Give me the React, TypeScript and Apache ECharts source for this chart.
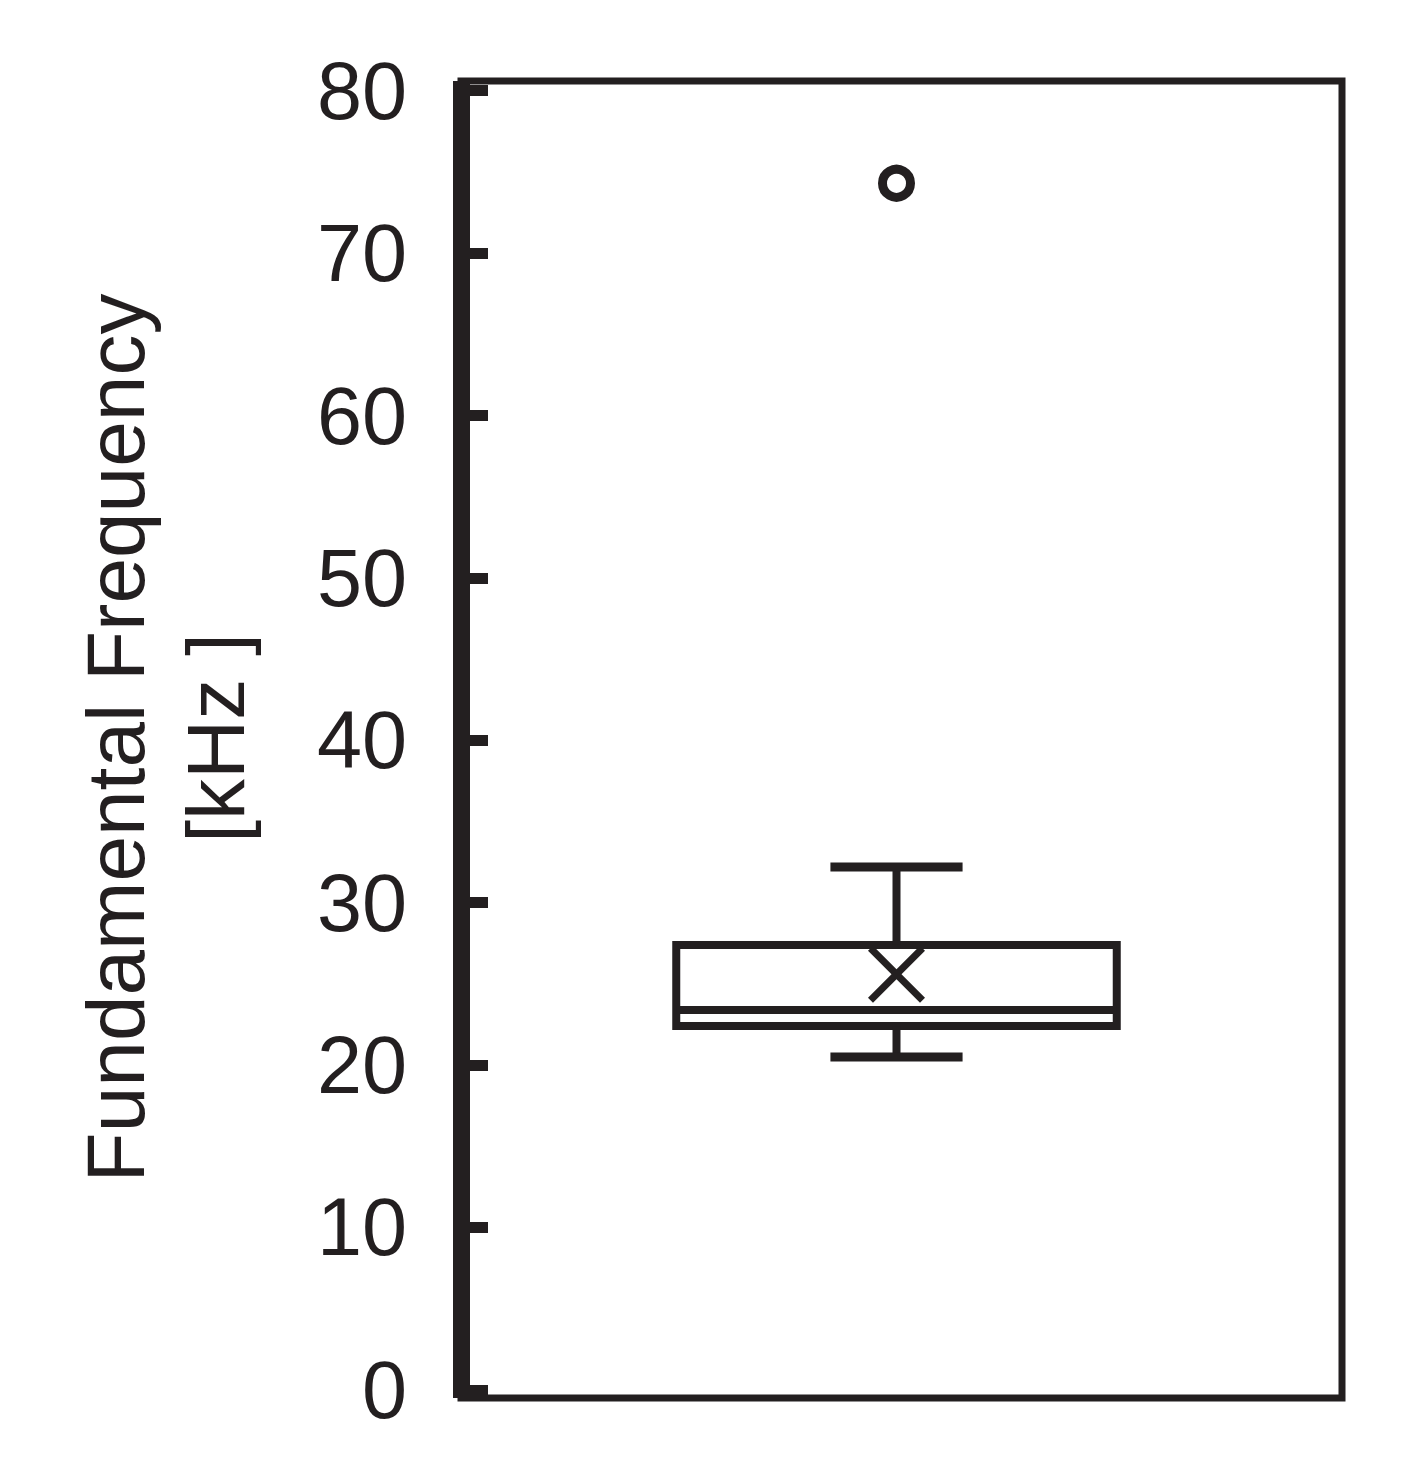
import React, { useEffect, useRef } from "react";
import * as echarts from "echarts";

const categories = ["Sample"];
const whiskerLow = [20.5];
const quartile1 = [22.4];
const medians = [23.4];
const quartile3 = [27.4];
const whiskerHigh = [32.2];
const means = [25.6];
const outliers = [74.3];
const tickValues = [0, 10, 20, 30, 40, 50, 60, 70, 80];

const INK = "#231f20";
const FONT = "'Liberation Sans', Arial, Helvetica, sans-serif";

export default function App() {
  const ref = useRef<HTMLDivElement>(null);

  useEffect(() => {
    if (!ref.current) return;
    const chart = echarts.init(ref.current, null, { renderer: "svg" });

    const boxData = categories.map((_, i) => [
      i,
      whiskerLow[i],
      quartile1[i],
      medians[i],
      quartile3[i],
      whiskerHigh[i],
      means[i],
    ]);
    const outlierData = outliers.map((v) => [0, v]);

    chart.setOption({
      animation: false,
      backgroundColor: "#ffffff",
      grid: {
        left: 461,
        top: 81,
        width: 881,
        height: 1317,
        show: true,
        borderColor: INK,
        borderWidth: 7,
        backgroundColor: "transparent",
      },
      xAxis: {
        type: "category",
        data: categories,
        show: false,
      },
      yAxis: {
        type: "value",
        min: -0.5,
        max: 80.6,
        splitLine: { show: false },
        axisLine: { show: true, lineStyle: { color: INK, width: 17, cap: "butt" } },
        axisTick: {
          show: true,
          inside: true,
          length: 27,
          customValues: tickValues,
          lineStyle: { color: INK, width: 11, cap: "butt" },
        },
        axisLabel: {
          show: true,
          customValues: tickValues,
          margin: 54,
          color: INK,
          fontSize: 81,
          fontFamily: FONT,
        },
      },
      graphic: [
        {
          type: "text",
          x: 165,
          y: 738,
          rotation: Math.PI / 2,
          style: {
            text: "Fundamental Frequency\n[kHz ]",
            font: `82px ${FONT}`,
            fill: INK,
            align: "center",
            verticalAlign: "middle",
            lineHeight: 100,
          },
        },
      ],
      series: [
        {
          type: "custom",
          data: boxData,
          encode: { x: 0, y: [1, 2, 3, 4, 5] },
          renderItem: (params: any, api: any) => {
            const idx = api.value(0);
            const c = (v: number) => api.coord([idx, v]);
            const band = api.size([1, 0])[0];
            const half = band * 0.25;
            const capHalf = band * 0.075;
            const xHalf = 26;
            const pLow = c(api.value(1));
            const pQ1 = c(api.value(2));
            const pMed = c(api.value(3));
            const pQ3 = c(api.value(4));
            const pHigh = c(api.value(5));
            const pMean = c(api.value(6));
            const cx = pMed[0] - 5;
            const st = { stroke: INK, lineWidth: 8, fill: "transparent" };
            const line = (x1: number, y1: number, x2: number, y2: number, lw = 8) => ({
              type: "line",
              shape: { x1, y1, x2, y2 },
              style: { stroke: INK, lineWidth: lw },
            });
            return {
              type: "group",
              children: [
                {
                  type: "rect",
                  shape: { x: cx - half, y: pQ3[1], width: 2 * half, height: pQ1[1] - pQ3[1] },
                  style: st,
                },
                line(cx - half, pMed[1], cx + half, pMed[1]),
                line(cx, pQ3[1], cx, pHigh[1]),
                line(cx - capHalf, pHigh[1], cx + capHalf, pHigh[1], 9),
                line(cx, pQ1[1], cx, pLow[1]),
                line(cx - capHalf, pLow[1], cx + capHalf, pLow[1], 9),
                line(cx - xHalf, pMean[1] - xHalf, cx + xHalf, pMean[1] + xHalf, 7),
                line(cx - xHalf, pMean[1] + xHalf, cx + xHalf, pMean[1] - xHalf, 7),
              ],
            };
          },
          z: 3,
        },
        {
          type: "scatter",
          data: outlierData,
          symbol: "circle",
          symbolSize: 28,
          symbolOffset: [-5, 0],
          itemStyle: { color: "#ffffff", borderColor: INK, borderWidth: 9, opacity: 1 },
          z: 4,
        },
      ],
    });

    return () => chart.dispose();
  }, []);

  return (
    <div
      ref={ref}
      style={{ position: "absolute", left: 0, top: 0, width: 1413, height: 1479 }}
    />
  );
}
